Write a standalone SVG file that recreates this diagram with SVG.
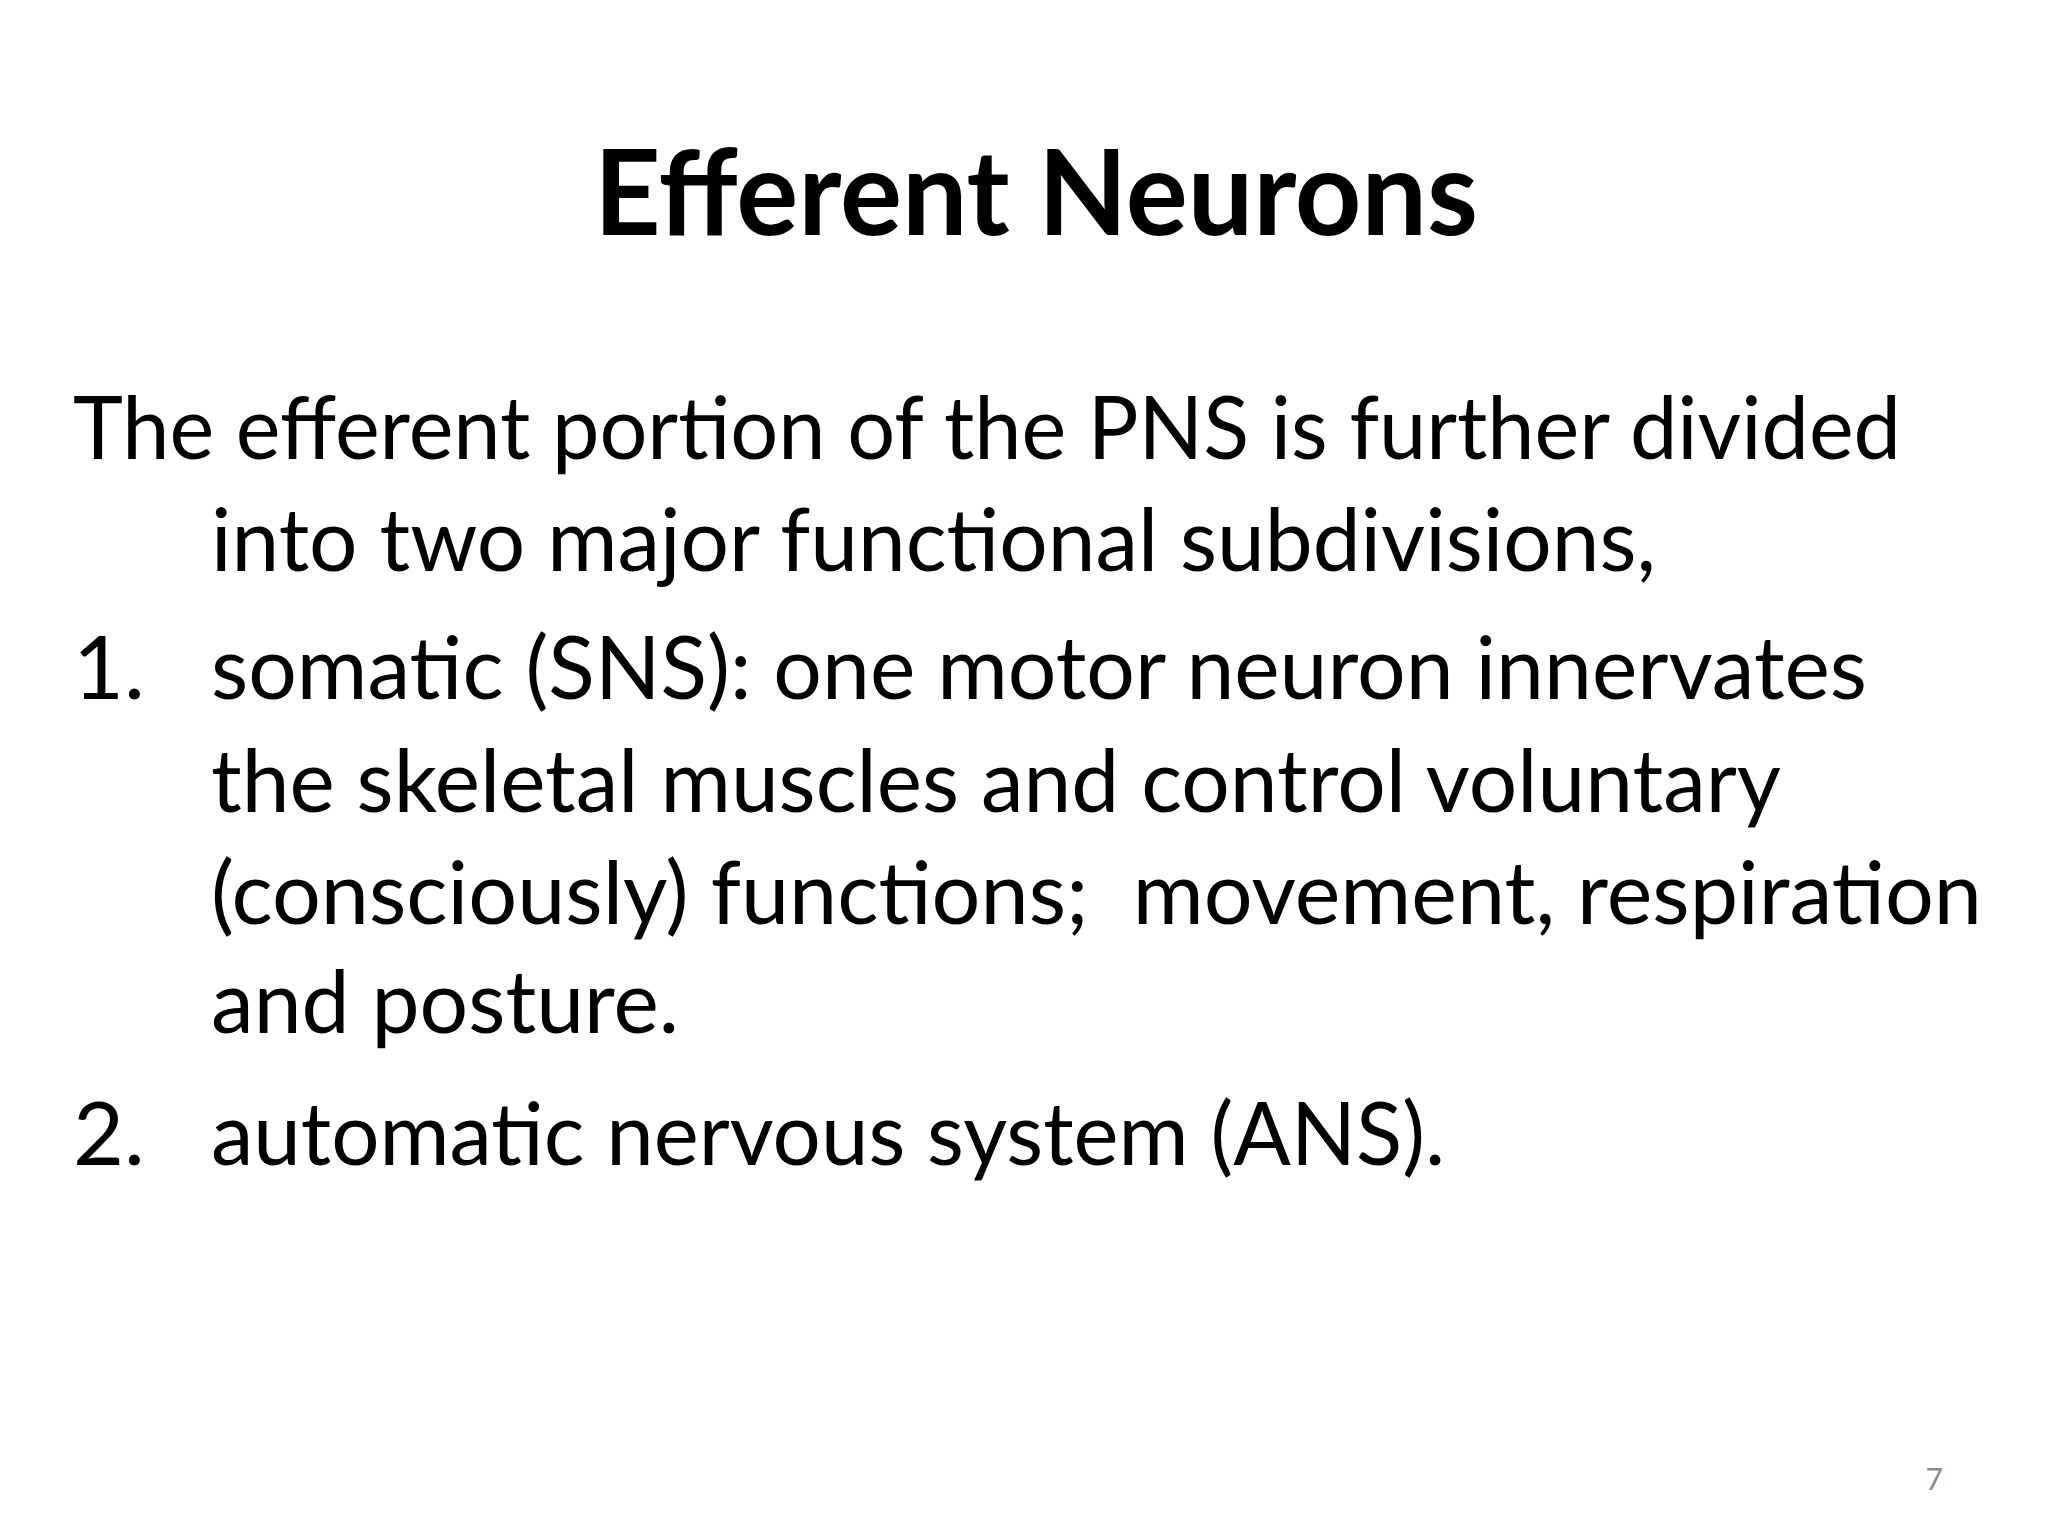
<svg xmlns="http://www.w3.org/2000/svg" width="2048" height="1536" viewBox="0 0 2048 1536">
<style>
.t{font-family:Lato,"Open Sans","Liberation Sans",sans-serif;fill:#000}
.b{font-size:88px}
</style>
<rect width="2048" height="1536" fill="#fff"/>
<g id="title"><text class="t" x="1036" y="235" font-size="118" font-weight="bold" text-anchor="middle" textLength="884" lengthAdjust="spacingAndGlyphs">Efferent Neurons</text></g>
<g id="body">
<text class="t b" x="73" y="459" textLength="1828" lengthAdjust="spacingAndGlyphs">The efferent portion of the PNS is further divided</text>
<text class="t b" x="211" y="571" textLength="1445" lengthAdjust="spacingAndGlyphs">into two major functional subdivisions,</text>
<text class="t b" x="73" y="699">1.</text>
<text class="t b" x="211" y="699" textLength="1656" lengthAdjust="spacingAndGlyphs">somatic (SNS): one motor neuron innervates</text>
<text class="t b" x="211" y="812" textLength="1570" lengthAdjust="spacingAndGlyphs">the skeletal muscles and control voluntary</text>
<text class="t b" x="211" y="924" textLength="1771" lengthAdjust="spacingAndGlyphs" xml:space="preserve">(consciously) functions;  movement, respiration</text>
<text class="t b" x="211" y="1033" textLength="468" lengthAdjust="spacingAndGlyphs">and posture.</text>
<text class="t b" x="73" y="1165">2.</text>
<text class="t b" x="211" y="1165" textLength="1234" lengthAdjust="spacingAndGlyphs">automatic nervous system (ANS).</text>
</g>
<g id="page"><text x="1943" y="1490" font-family="Lato,'Liberation Sans',sans-serif" font-size="30" fill="#8a8a8a" text-anchor="end">7</text></g>
</svg>
